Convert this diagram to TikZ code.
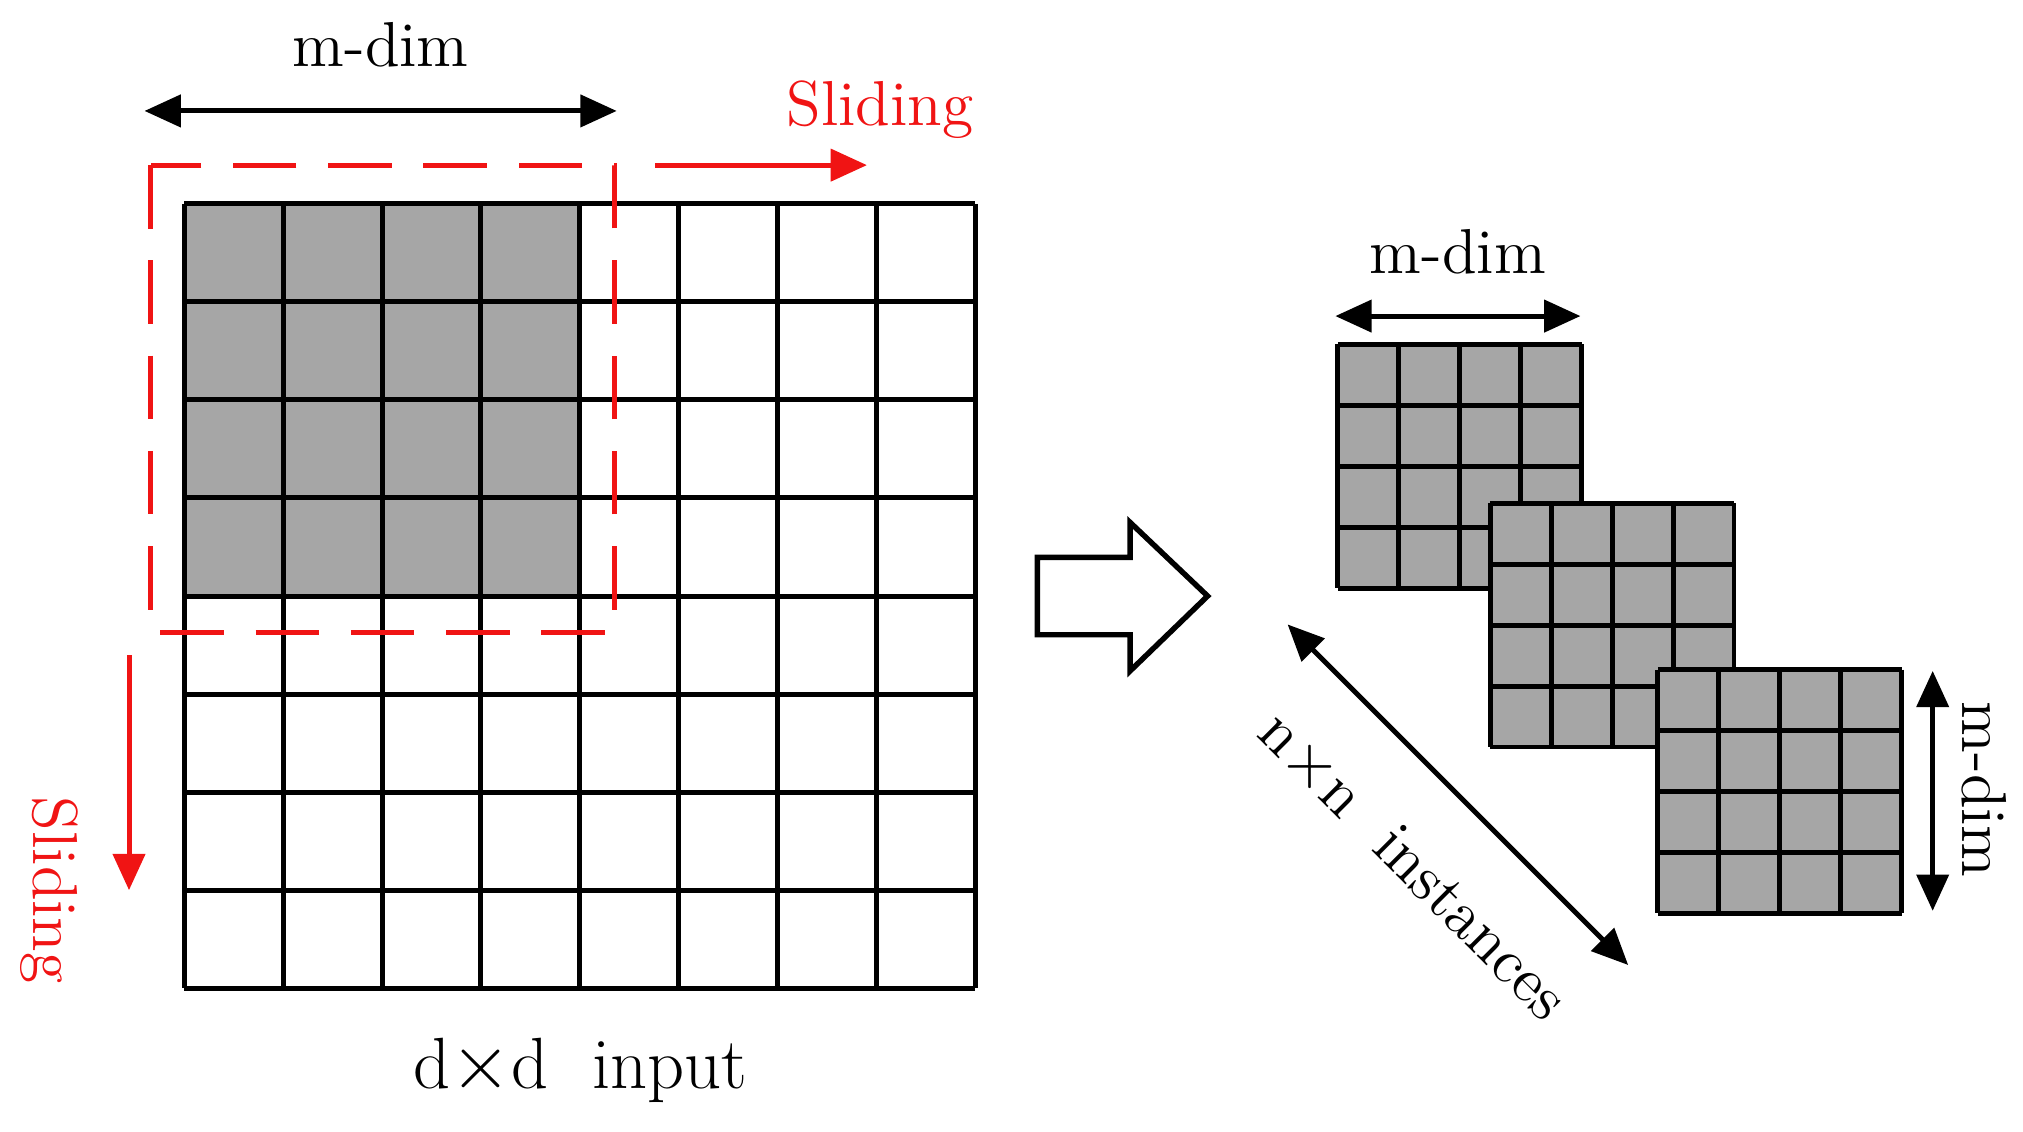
\documentclass[tikz,border=0pt]{standalone}
\usetikzlibrary{arrows.meta}
\definecolor{cellgray}{RGB}{166,166,166}
\definecolor{myred}{RGB}{240,20,20}
\begin{document}
\begin{tikzpicture}[x=0.01cm,y=-0.01cm,
  gl/.style={line width=1.1pt,black},
  dim/.style={line width=1.1pt,{Triangle[length=8pt,width=7pt]}-{Triangle[length=8pt,width=7pt]}},
  redarr/.style={line width=1.1pt,myred,-{Triangle[length=8pt,width=7pt]}},
  lab/.style={font=\fontsize{14}{16}\selectfont},
  bigl/.style={font=\fontsize{16}{18}\selectfont}]
\useasboundingbox (0,0) rectangle (1568,877);
% left grid
\fill[cellgray] (143,158) rectangle (449,464);
\foreach \i in {0,...,8}{
  \draw[gl] ({143+\i*76.6},158) -- ({143+\i*76.6},766);
  \draw[gl] (143,{158+\i*76}) -- (756,{158+\i*76});
}
\draw[myred,line width=1.1pt,dash pattern=on 14pt off 7pt] (117,128) rectangle (476,490);
\coordinate (a1) at (112,86); \coordinate (a2) at (478,86);
\draw[dim] (a1) -- (a2);
\node[lab] (md1) at (295,35) {m-dim};
\coordinate (s1) at (508,128); \coordinate (s2) at (672,128);
\draw[redarr] (s1) -- (s2);
\node[lab,text=myred] (sl1) at (682,85) {Sliding};
\coordinate (s3) at (100,508); \coordinate (s4) at (100,690);
\draw[redarr] (s3) -- (s4);
\node[lab,text=myred,rotate=-90] (sl2) at (38,690) {Sliding};
\node[bigl] (inp) at (450,830) {d$\times$d\ \ input};
% block arrow
\draw[line width=1.2pt,fill=white] (804,432) -- (876,432) -- (876,405) -- (936,462) -- (876,520) -- (876,492) -- (804,492) -- cycle;
% small grids
\foreach \x/\y in {1037/267,1155/390,1285/519}{
  \fill[cellgray] (\x,\y) rectangle ++(189,189);
  \foreach \i in {0,...,4}{
    \draw[gl] ({\x+\i*47.25},\y) -- ({\x+\i*47.25},\y+189);
    \draw[gl] (\x,{\y+\i*47.25}) -- (\x+189,{\y+\i*47.25});
  }
}
\coordinate (b1) at (1035,245); \coordinate (b2) at (1225,245);
\draw[dim] (b1) -- (b2);
\node[lab] (md2) at (1130,195) {m-dim};
\coordinate (c1) at (1498,520); \coordinate (c2) at (1498,706);
\draw[dim] (c1) -- (c2);
\node[lab,rotate=-90] (md3) at (1538,612) {m-dim};
\coordinate (d1) at (998,484); \coordinate (d2) at (1262,748);
\draw[dim] (d1) -- (d2);
\node[lab,rotate=-45] (nn) at (1095,672) {n$\times$n\ \ instances};
\end{tikzpicture}
\end{document}
